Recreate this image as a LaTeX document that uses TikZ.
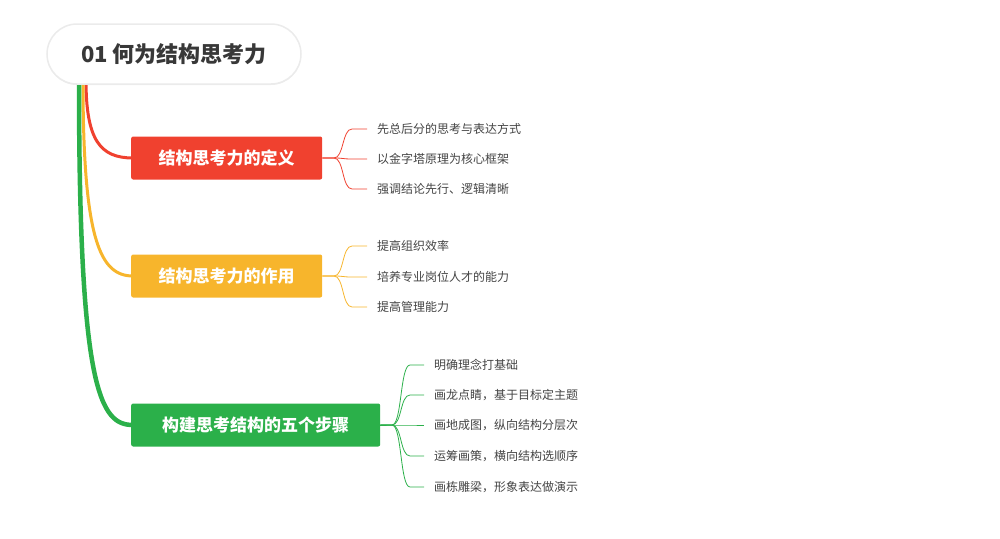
\documentclass[tikz,border=0pt]{standalone}
\usepackage{fontspec}
\newfontfamily\cjk{Noto Sans CJK SC}
\usetikzlibrary{shadows}
\definecolor{cred}{HTML}{F0412F}
\definecolor{cyel}{HTML}{F7B52C}
\definecolor{cgrn}{HTML}{2BB04A}
\definecolor{ctxt}{HTML}{444444}
\tikzset{
 mainbox/.style={rounded corners=2pt,text=white,font=\cjk\bfseries\fontsize{17}{20}\selectfont,inner sep=0,minimum height=43,anchor=west},
 leaf/.style={anchor=west,text=ctxt,font=\cjk\fontsize{12}{14}\selectfont,inner sep=0},
 br/.style={line width=0.8pt}
}
\begin{document}
\begin{tikzpicture}[x=1pt,y=-1pt]
\useasboundingbox (0,0) rectangle (1000,538);
% trunks
\draw[cred,line width=3pt] (86,80) .. controls (86,140) and (100,158) .. (133,158);
\draw[cyel,line width=3pt] (83,80) .. controls (83,240) and (100,276) .. (133,276);
\draw[cgrn,line width=4.5pt] (79,80) .. controls (79,390) and (100,425) .. (133,425);
% root
\node[rounded corners=30pt,fill=white,draw=black!8,line width=1.5pt,drop shadow={opacity=0.12,shadow xshift=0pt,shadow yshift=-1pt},minimum width=254,minimum height=60,font=\cjk\bfseries\fontsize{22}{26}\selectfont,text=black!78] (root) at (174,54) {01 何为结构思考力};
% boxes
\node[mainbox,fill=cred,minimum width=191] (b1) at (131,158) {结构思考力的定义};
\node[mainbox,fill=cyel,minimum width=191] (b2) at (131,276) {结构思考力的作用};
\node[mainbox,fill=cgrn,minimum width=249] (b3) at (131,425) {构建思考结构的五个步骤};
% leaves red
\foreach \t/\y [count=\i] in {先总后分的思考与表达方式/129,以金字塔原理为核心框架/159,强调结论先行、逻辑清晰/189}{
 \node[leaf] (r\i) at (377,\y) {\t};
 \draw[cred,br] (b1.east) -- (334,158) .. controls (344,158) and (342,\y) .. (352,\y) -- (367,\y);
}
\foreach \t/\y [count=\i] in {提高组织效率/246,培养专业岗位人才的能力/277,提高管理能力/307}{
 \node[leaf] (y\i) at (377,\y) {\t};
 \draw[cyel,br] (b2.east) -- (334,276) .. controls (344,276) and (342,\y) .. (352,\y) -- (367,\y);
}
\foreach \t/\y [count=\i] in {明确理念打基础/365,画龙点睛，基于目标定主题/395,画地成图，纵向结构分层次/425,运筹画策，横向结构选顺序/456,画栋雕梁，形象表达做演示/487}{
 \node[leaf] (g\i) at (434,\y) {\t};
 \draw[cgrn,br] (b3.east) -- (392,425) .. controls (402,425) and (400,\y) .. (410,\y) -- (424,\y);
}
\end{tikzpicture}
\end{document}
